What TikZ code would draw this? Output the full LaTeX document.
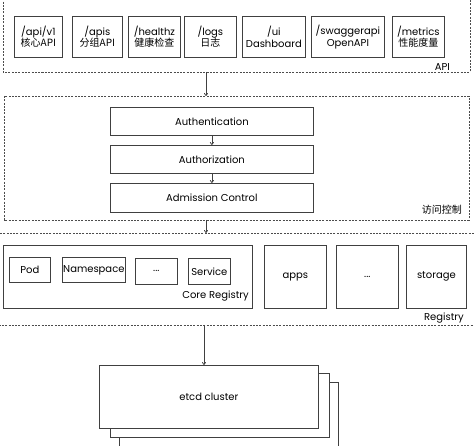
\documentclass[tikz,border=0pt]{standalone}
\usepackage{fontspec}
\setmainfont{Poppins}
\newfontfamily\cjk{Noto Sans CJK SC}
\usetikzlibrary{arrows.meta}
\begin{document}
\begin{tikzpicture}[x=1pt,y=-1pt,
  lc/.style={draw=black!75, line width=0.75pt},
  box/.style={lc, fill=white, inner sep=0pt, align=center, font=\fontsize{10}{11.5}\selectfont},
  grp/.style={draw=black!70, line width=0.7pt, dash pattern=on 2pt off 1.3pt},
  lbl/.style={font=\fontsize{10}{11}\selectfont, inner sep=0pt},
  arr/.style={lc, -{To[length=3pt,width=4pt]}},
]
\useasboundingbox (0,0) rectangle (474,446);
\clip (0,0) rectangle (474,446);
\fill[white] (0,0) rectangle (474,446);
% API group
\draw[grp] (3,-5) rectangle (470,72);
\node[lbl, anchor=east] (apilbl) at (450,67) {API};
\foreach \n/\a/\b/\t in {a1/14/62/{/api/v1\\\cjk{核心}API}, a2/72/122/{/apis\\\cjk{分组}API}, a3/128/180/{/healthz\\\cjk{健康检查}}, a4/184/236/{/logs\\\cjk{日志}}, a5/242/305/{/ui\\Dashboard}, a6/311/384/{/swaggerapi\\OpenAPI}, a7/392/444/{/metrics\\\cjk{性能度量}}}{
  \node[box, minimum width={\b-\a}, minimum height=41, anchor=north west] (\n) at (\a,16) {\t};
}
% access control group
\draw[grp] (4,96) rectangle (469,220);
\node[lbl, anchor=east, font=\cjk\fontsize{10}{11}\selectfont] (aclbl) at (462,210) {访问控制};
\node[box, minimum width=203, minimum height=28, anchor=north west] (authn) at (110,107) {Authentication};
\node[box, minimum width=203, minimum height=28, anchor=north west] (authz) at (110,145) {Authorization};
\node[box, minimum width=203, minimum height=29, anchor=north west] (adm) at (110,183) {Admission Control};
\coordinate (apib) at (206,72);
\coordinate (act) at (206,96);
\coordinate (acb) at (206,220);
\draw[arr] (apib) -- (act);
\draw[arr] (authn) -- (authz);
\draw[arr] (authz) -- (adm);
% registry group
\draw[grp] (-5,233) rectangle (479,325);
\coordinate (regt) at (206,233);
\draw[arr] (acb) -- (regt);
\node[lbl, anchor=east] (reglbl) at (464,318) {Registry};
\node[box, minimum width=249, minimum height=63, anchor=north west] (core) at (3,245) {};
\node[lbl, anchor=east] (corelbl) at (249,296) {Core Registry};
\node[box, minimum width=41, minimum height=25, anchor=north west] (pod) at (9,257) {Pod};
\node[box, minimum width=63, minimum height=25, anchor=north west] (ns) at (62,257) {Namespace};
\node[box, minimum width=42, minimum height=26, anchor=north west] (dots1) at (135,258) {...};
\node[box, minimum width=42, minimum height=26, anchor=north west] (svc) at (188,258) {Service};
\node[box, minimum width=62, minimum height=63, anchor=north west] (apps) at (264,245) {apps};
\node[box, minimum width=62, minimum height=63, anchor=north west] (dots2) at (336,245) {...};
\node[box, minimum width=60, minimum height=63, anchor=north west] (stor) at (406,245) {storage};
% etcd
\node[box, minimum width=219, minimum height=64, anchor=north west] (e3) at (119,382) {};
\node[box, minimum width=219, minimum height=64, anchor=north west] (e2) at (110,373) {};
\node[box, minimum width=219, minimum height=63, anchor=north west] (etcd) at (99,365) {etcd cluster};
\coordinate (regb) at (204,325);
\draw[arr] (regb) -- (etcd.north -| regb);
\end{tikzpicture}
\end{document}
